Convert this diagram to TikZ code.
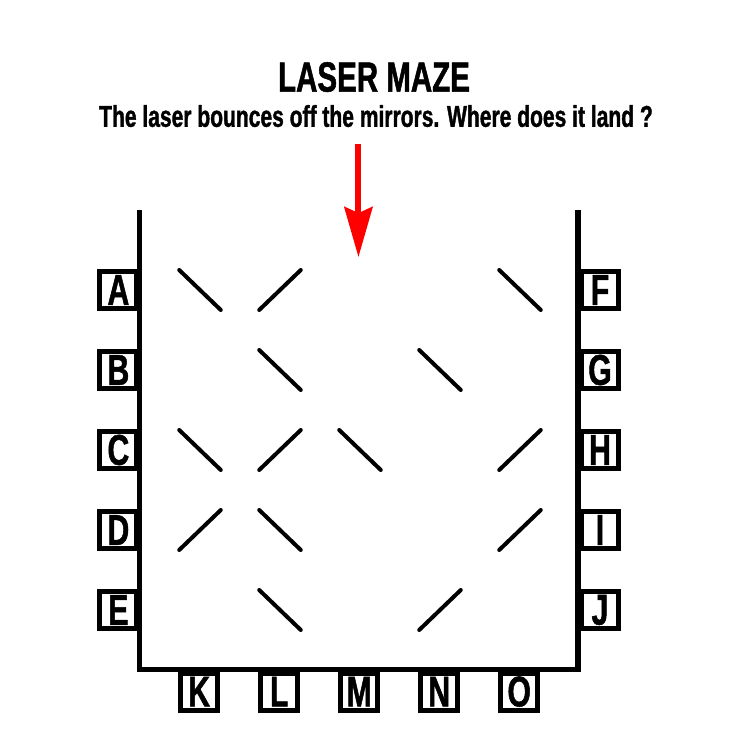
\documentclass[tikz,border=0pt]{standalone}
\usepackage{fontspec}
\usepackage{tikz}
\usetikzlibrary{arrows.meta}
\usetikzlibrary{positioning}
\newfontfamily\mazefont[FakeStretch=0.7, FakeBold=1.2]{Liberation Sans}
\tikzset{
    letterbox/.style={
        draw,
        rectangle,
        fill=white,
        line width=0.1cm,
        minimum size=0.74cm,
        inner sep=0pt,
        font=\mazefont\bfseries\fontsize{24.5}{26}\selectfont
    },
    mirror/.style={
        line width=0.08cm,
        line cap=round
    },
    wall/.style={
        line width=0.11cm
    },
    laser/.style={
        draw=red,
        line width=0.12cm,
        -{Stealth[length=1cm, width=0.56cm, inset=0.12cm]}
    }
}

\begin{document}
\begin{tikzpicture}[scale=1.6]
  \useasboundingbox (-1.5,-0.75) rectangle (7.875,8.625);

  % title
  \node[anchor=base, font=\mazefont\bfseries\fontsize{24}{26}\selectfont] (title) at (3.175,7.48) {LASER MAZE};
  \node[anchor=base, font=\mazefont\bfseries\fontsize{17.1}{19}\selectfont] (question) at (3.2,7.04) {The laser bounces off the mirrors. Where does it land ?};

  % walls
  \draw[wall] (0.244,6) -- (0.244,0.256) -- (5.725,0.256) -- (5.725,6);

  % exits
  \foreach \l [count=\i] in {A,B,C,D,E} {
    \node[letterbox] (\l) at (-0.02,6-\i) {\l};
  }
  \foreach \l [count=\i] in {F,G,H,I,J} {
    \node[letterbox] (\l) at (6.0,6-\i) {\l};
  }
  \foreach \l [count=\i] in {K,L,M,N,O} {
    \node[letterbox] (\l) at (\i-0.01,-0.02) {\l};
  }

  % mirrors
  \foreach \x/\y in {1/5, 5/5, 2/4, 4/4, 1/3, 3/3, 2/2, 2/1} {
    \draw[mirror] (\x-0.26,\y+0.25) -- (\x+0.26,\y-0.25);
  }
  \foreach \x/\y in {2/5, 2/3, 5/3, 1/2, 5/2, 4/1} {
    \draw[mirror] (\x-0.26,\y-0.25) -- (\x+0.26,\y+0.25);
  }

  % laser
  \coordinate (source) at (2.98,6.825);
  \coordinate (entry) at (2.98,5.41);
  \draw[laser] (source) -- (entry);
\end{tikzpicture}
\end{document}
